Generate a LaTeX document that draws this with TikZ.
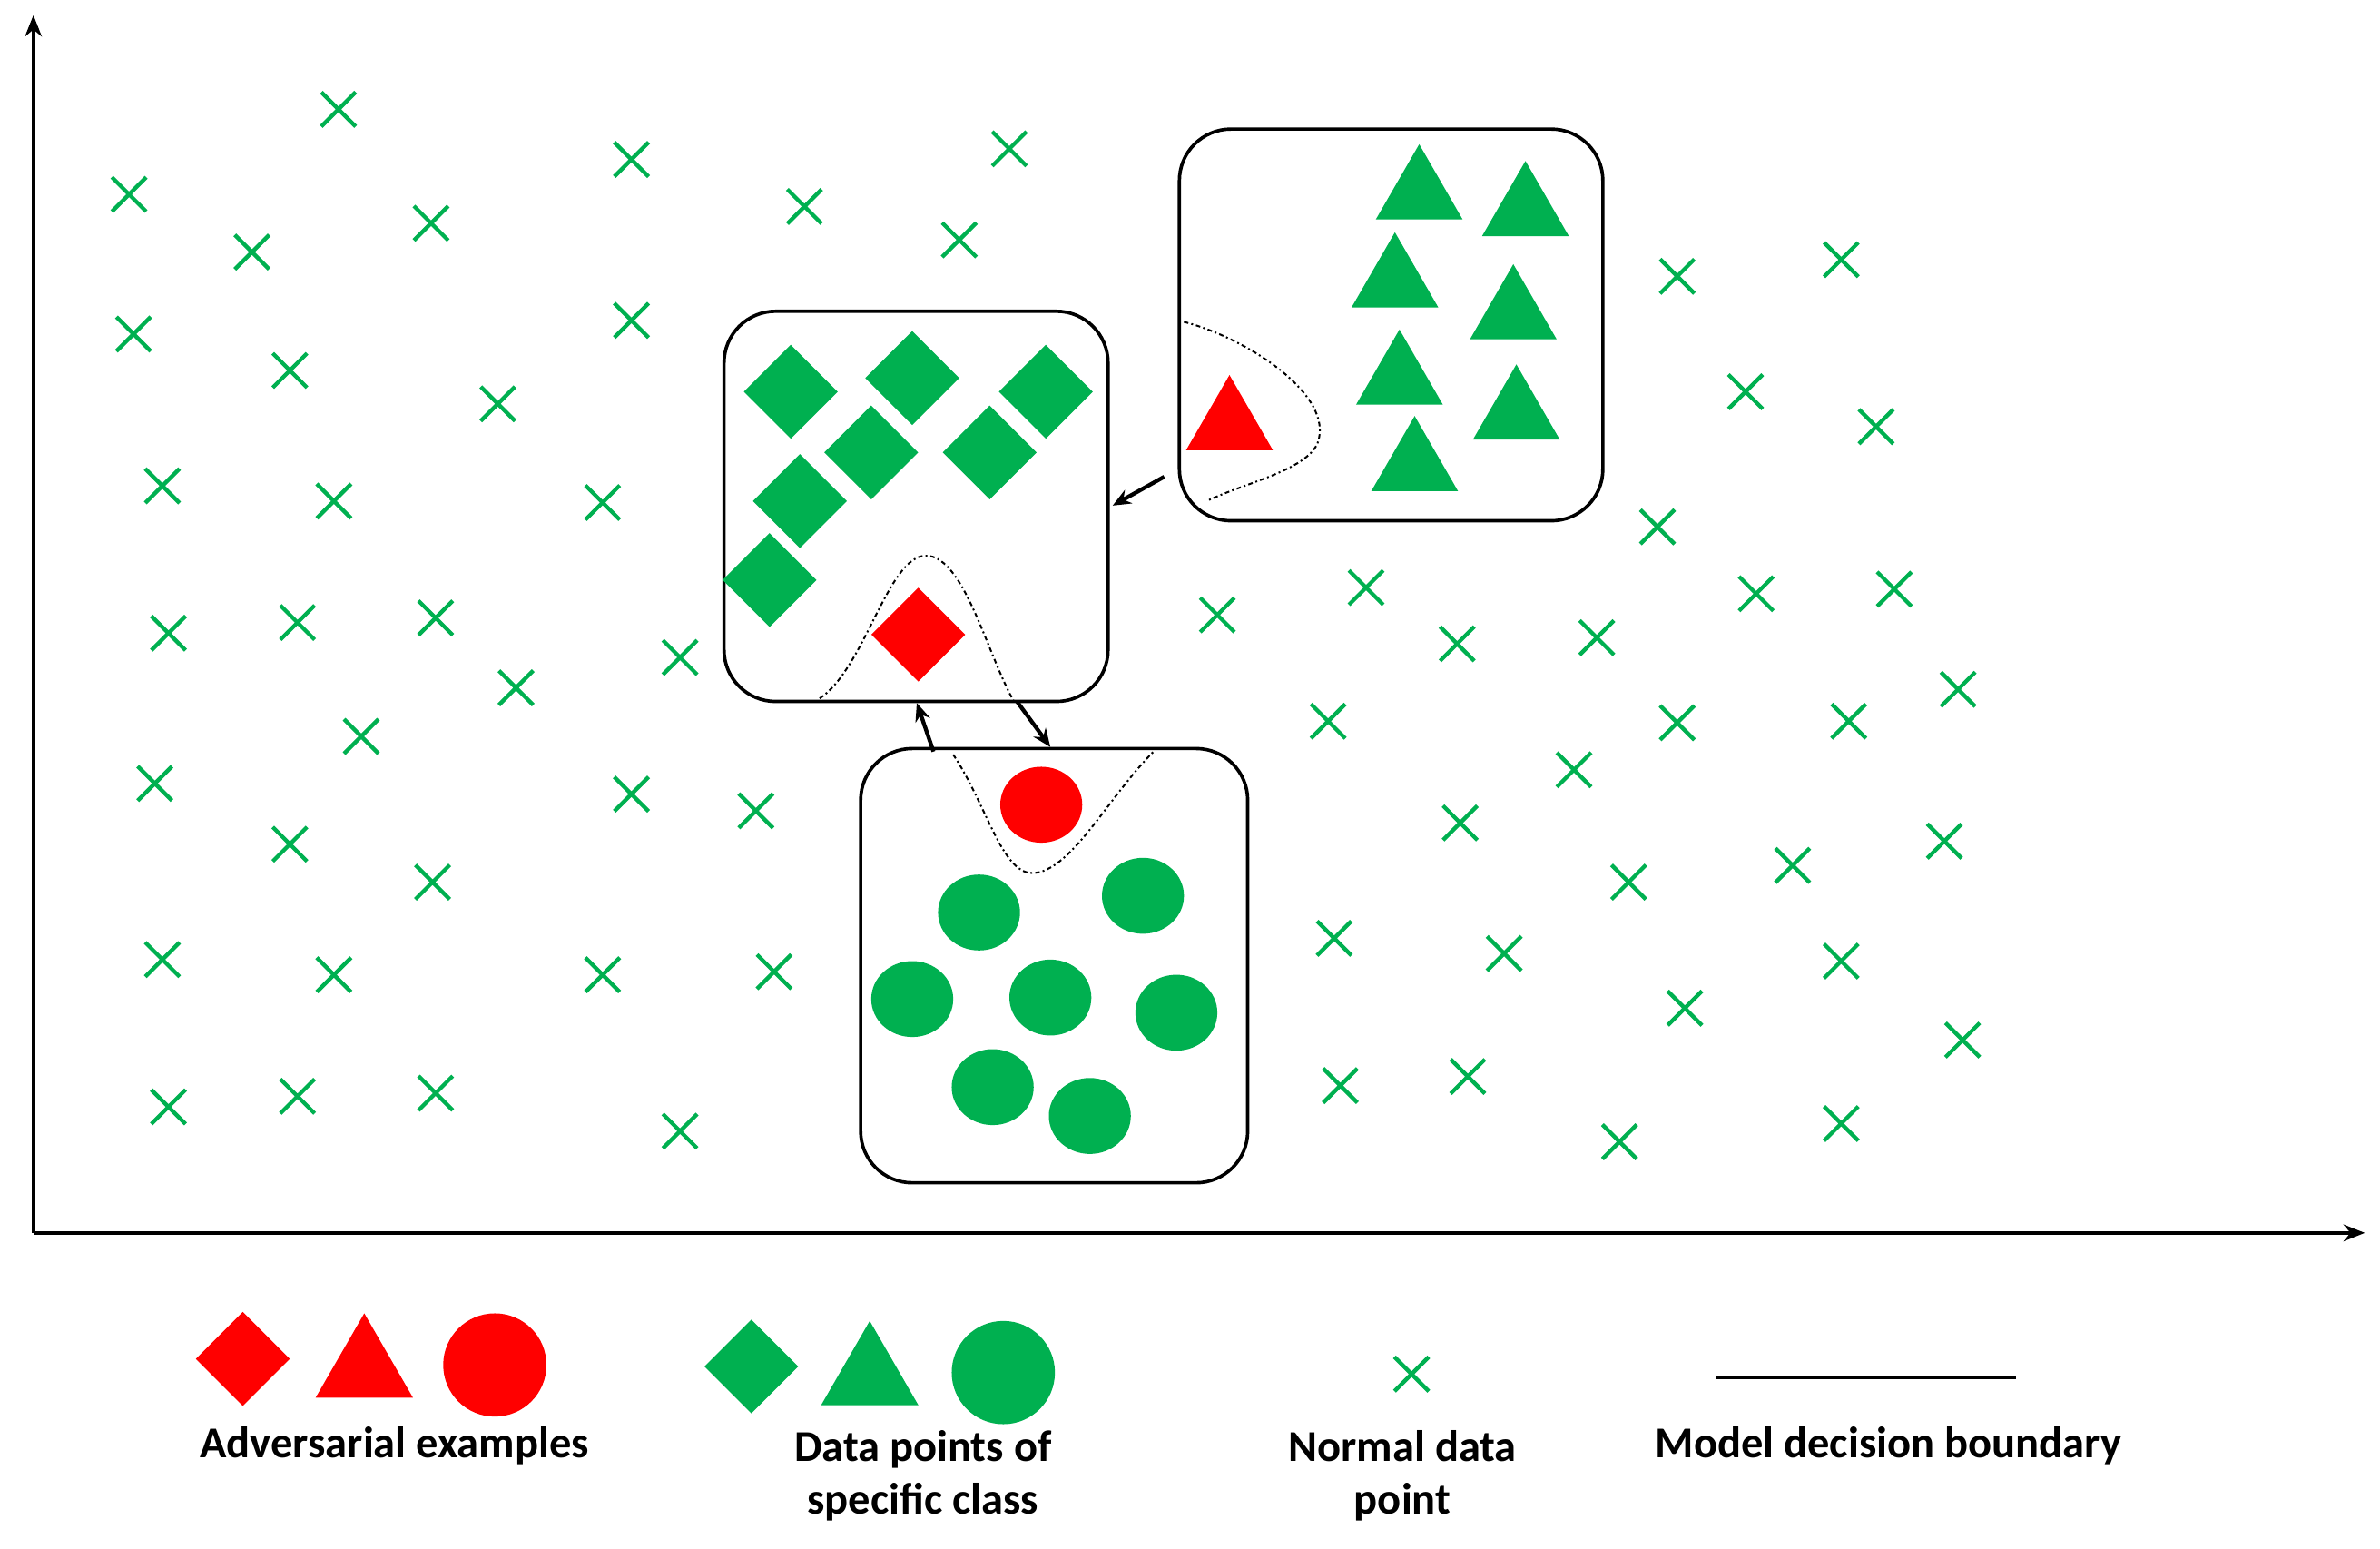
\documentclass[tikz,border=0pt]{standalone}
\usepackage{fontspec}
\setmainfont{Carlito}
\usetikzlibrary{shapes.geometric,shapes.misc,arrows.meta}
\definecolor{gr}{HTML}{00B050}
\definecolor{rd}{HTML}{FF0000}
\begin{document}
\begin{tikzpicture}[x=1pt,y=-1pt,
 cr/.style={cross out,draw=gr,line width=2.6pt,minimum size=20pt,inner sep=0pt},
 dia/.style={diamond,fill=#1,minimum size=62pt,inner sep=0pt},
 tri/.style={regular polygon,regular polygon sides=3,fill=#1,minimum size=66pt,inner sep=0pt},
 circ/.style={ellipse,fill=#1,minimum width=54pt,minimum height=50pt,inner sep=0pt},
 box/.style={draw,line width=2.2pt,rounded corners=34pt,fill=white},
 db/.style={line width=1.2pt,dash dot},
 ar/.style={line width=2.6pt,-{Stealth[length=12pt,width=10pt]}},
 lab/.style={font=\bfseries\fontsize{29}{35}\selectfont,align=center}]
\useasboundingbox (0,0) rectangle (1568,1020);
\coordinate (o) at (22,812);
\coordinate (yt) at (22,10);
\coordinate (xr) at (1558,812);
\draw[line width=2.6pt,-{Stealth[length=14pt,width=11pt]}] (o) -- (yt);
\draw[line width=2.6pt,-{Stealth[length=14pt,width=11pt]}] (o) -- (xr);
\foreach \p [count=\i] in {(223,72),(85,128),(166,166),(284,147),(88,220),(191,244),(328,266),(107,320),(220,330),(416,105),(530,136),(632,158),(665,98),(416,211),(397,331),(111,417),(196,410),(287,407),(340,453),(448,433),(238,485),(102,516),(191,556),(285,581),(416,523),(498,534),(107,632),(220,642),(397,642),(510,640),(111,729),(196,722),(287,720),(448,745),(1105,182),(1213,171),(1150,258),(1236,281),(1092,347),(802,405),(900,387),(960,424),(1052,420),(1157,391),(1248,388),(1290,454),(875,475),(1105,476),(1218,475),(1037,507),(962,542),(1073,581),(1181,570),(1281,554),(879,618),(991,628),(1110,664),(1213,633),(1293,685),(883,715),(967,709),(1067,752),(1213,740)}
  \node[cr] (x\i) at \p {};
% box 1
\draw[box] (477,205) rectangle (730,462);
\node (b1) at (603,333) [minimum width=253pt,minimum height=257pt] {};
\foreach \p [count=\i] in {(521,258),(601,249),(689,258),(574,298),(652,298),(527,330),(507,382)}
  \node[dia=gr] (d\i) at \p {};
\draw[db] (540,460) .. controls (570,440) and (585,366) .. (610,366) .. controls (635,366) and (650,430) .. (668,462);
\node[dia=rd] (dr) at (605,418) {};
% box 2
\draw[box] (777,85) rectangle (1056,343);
\foreach \p [count=\i] in {(935,128),(1005,139),(919,186),(997,207),(922,250),(999,273),(932,307)}
  \node[tri=gr] (t\i) at \p {};
\draw[db] (780,212) .. controls (820,222) and (880,260) .. (868,292) .. controls (860,310) and (820,318) .. (795,330);
\node[tri=rd] (tr) at (810,280) {};
% box 3
\draw[box] (567,493) rectangle (822,779);
\draw[db] (628,497) .. controls (650,530) and (660,575) .. (680,575) .. controls (705,575) and (730,525) .. (760,495);
\node[circ=rd] (cr) at (686,530) {};
\foreach \p [count=\i] in {(645,601),(753,590),(601,658),(692,657),(775,667),(654,716),(718,735)}
  \node[circ=gr] (c\i) at \p {};
% arrows
\coordinate (a1s) at (767,314); \coordinate (a1e) at (733,333);
\coordinate (a2s) at (615,495); \coordinate (a2e) at (604,463);
\coordinate (a3s) at (670,462); \coordinate (a3e) at (692,492);
\draw[ar] (a1s) -- (a1e);
\draw[ar] (a2s) -- (a2e);
\draw[ar] (a3s) -- (a3e);
% legend
\node[dia=rd] (l1) at (160,895) {};
\node[tri=rd,minimum size=74pt] (l2) at (240,902) {};
\node[circle,fill=rd,minimum size=68pt,inner sep=0pt] (l3) at (326,899) {};
\node[dia=gr] (l4) at (495,900) {};
\node[tri=gr,minimum size=74pt] (l5) at (573,907) {};
\node[circle,fill=gr,minimum size=68pt,inner sep=0pt] (l6) at (661,904) {};
\node[cr] (l7) at (930,905) {};
\coordinate (la) at (1130,907); \coordinate (lb) at (1328,907);
\draw[line width=2.4pt] (la) -- (lb);
\node[lab] (t1) at (260,952) {Adversarial examples};
\node[lab] (t2) at (608,972) {Data points of\\specific class};
\node[lab] (t3) at (924,972) {Normal data\\point};
\node[lab] (t4) at (1244,952) {Model decision boundary};
\end{tikzpicture}
\end{document}
